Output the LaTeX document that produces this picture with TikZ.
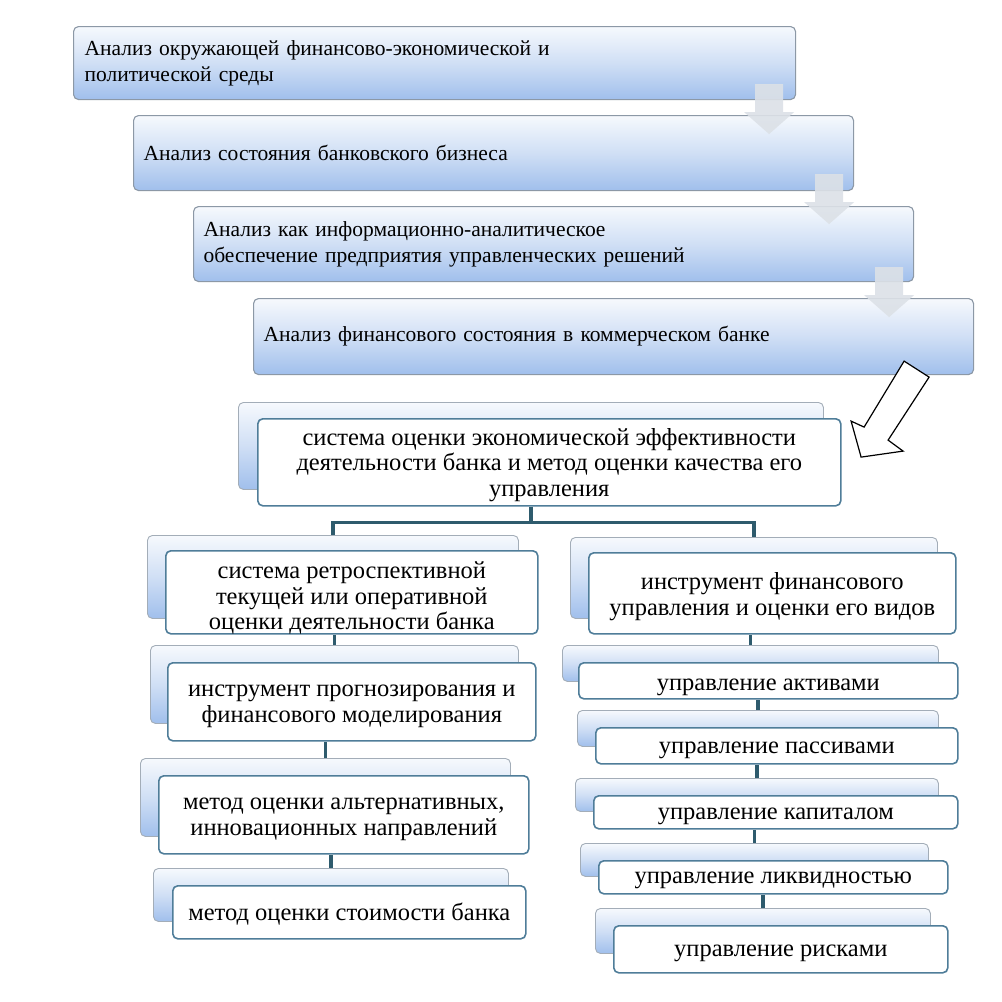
\documentclass[tikz,border=0pt]{standalone}
\usepackage{fontspec}
\setmainfont{Liberation Serif}
\newfontfamily\serifL{Liberation Serif}
\usetikzlibrary{calc}
\definecolor{gtop}{HTML}{F6F9FD}
\definecolor{gmid}{HTML}{D0DFF5}
\definecolor{gbot}{HTML}{A0BFEC}
\definecolor{gborder}{HTML}{8C98A6}
\definecolor{fborder}{HTML}{4F7D99}
\definecolor{conn}{HTML}{2E5B6D}
\definecolor{garrowc}{HTML}{DCE1E7}
\tikzset{
  topbox/.style={draw=gborder, line width=1.1pt, rounded corners=5pt, top color=gtop, bottom color=gbot, middle color=gmid, anchor=north west, inner xsep=10pt, inner ysep=2pt, align=left, font=\serifL\fontsize{21.5}{26}\selectfont},
  shadowbox/.style={draw=gborder!80, line width=0.9pt, rounded corners=5pt, top color=gtop, bottom color=gbot, middle color=gmid, anchor=north west, inner sep=0pt},
  frontbox/.style={draw=fborder, line width=1.6pt, rounded corners=5pt, fill=white, anchor=north west, inner sep=0pt},
  ftext/.style={font=\serifL\fontsize{24.5}{25.5}\selectfont, align=center, inner sep=0pt, yshift=-4.5pt},
  link/.style={draw=conn, line width=3.5pt},
  garrow/.style={fill=garrowc, opacity=0.9},
  bigarrow/.style={draw=black, line width=1.2pt, fill=white, line join=miter}
}
\begin{document}
\begin{tikzpicture}[x=1pt, y=-1pt]
\useasboundingbox[fill=white] (0,0) rectangle (1002,1002);

% top cascade
\node[topbox, minimum width=722pt, minimum height=73pt, text width=700pt] (b1) at (73,26)
  {Анализ окружающей финансово-экономической и\\политической среды};
\node[topbox, minimum width=720pt, minimum height=75pt, text width=700pt] (b2) at (133,115)
  {Анализ состояния банковского бизнеса};
\node[topbox, minimum width=720pt, minimum height=75pt, text width=700pt] (b3) at (193,206)
  {Анализ как информационно-аналитическое\\обеспечение предприятия управленческих решений};
\node[topbox, minimum width=720pt, minimum height=76pt, text width=700pt] (b4) at (253,298)
  {Анализ финансового состояния в коммерческом банке};

\newcommand{\grayarr}[1]{\fill[garrow] ($#1+(-14,0)$) -- ++(0,28) -- ++(-11,0) -- ++(25,22) -- ++(25,-22) -- ++(-11,0) -- ++(0,-28) -- cycle;}
\grayarr{(b1.south east)+(-27,-16)}
\grayarr{(b2.south east)+(-25,-17)}
\grayarr{(b3.south east)+(-25,-15)}

% big hollow arrow
\draw[bigarrow] ($(b4.south east)+(-70,-14)$) -- ++(25,16) -- ++(-41,63) -- ++(15,11) -- ++(-42,6) -- ++(-10,-36) -- ++(13,6) -- cycle;

% lower hierarchy: shadow boxes
\node[shadowbox, minimum width=585pt, minimum height=87pt] (s0) at (238,402) {};
\node[shadowbox, minimum width=371pt, minimum height=83pt] (sL1) at (147,535) {};
\node[shadowbox, minimum width=368pt, minimum height=78pt] (sL2) at (150,645) {};
\node[shadowbox, minimum width=370pt, minimum height=78pt] (sL3) at (140,758) {};
\node[shadowbox, minimum width=355pt, minimum height=53pt] (sL4) at (153,868) {};
\node[shadowbox, minimum width=367pt, minimum height=81pt] (sR1) at (570,537) {};
\node[shadowbox, minimum width=376pt, minimum height=36pt] (sR2) at (562,645) {};
\node[shadowbox, minimum width=361pt, minimum height=36pt] (sR3) at (577,710) {};
\node[shadowbox, minimum width=363pt, minimum height=33pt] (sR4) at (575,778) {};
\node[shadowbox, minimum width=348pt, minimum height=33pt] (sR5) at (580,843) {};
\node[shadowbox, minimum width=335pt, minimum height=45pt] (sR6) at (595,908) {};

% front boxes (text placed as centred labels)
\node[frontbox, minimum width=583pt, minimum height=87pt,
  label={[ftext, yshift=2pt, name=t0]center:{система оценки экономической эффективности\\деятельности банка и метод оценки качества его\\управления}}] (n0) at (257,418) {};
\node[frontbox, minimum width=372pt, minimum height=83pt,
  label={[ftext, yshift=-1.5pt, name=tL1]center:{система ретроспективной\\текущей или оперативной\\оценки деятельности банка}}] (nL1) at (165,550) {};
\node[frontbox, minimum width=368pt, minimum height=78pt,
  label={[ftext, name=tL2]center:{инструмент прогнозирования и\\финансового моделирования}}] (nL2) at (167,662) {};
\node[frontbox, minimum width=370pt, minimum height=78pt,
  label={[ftext, name=tL3]center:{метод оценки альтернативных,\\инновационных направлений}}] (nL3) at (158,775) {};
\node[frontbox, minimum width=353pt, minimum height=53pt,
  label={[ftext, yshift=2.5pt, name=tL4]center:{метод оценки стоимости банка}}] (nL4) at (172,885) {};
\node[frontbox, minimum width=367pt, minimum height=81pt,
  label={[ftext, yshift=1pt, name=tR1]center:{инструмент финансового\\управления и оценки его видов}}] (nR1) at (588,552) {};
\node[frontbox, minimum width=379pt, minimum height=36pt,
  label={[ftext, yshift=-2.5pt, name=tR2]center:{управление активами}}] (nR2) at (578,662) {};
\node[frontbox, minimum width=362pt, minimum height=36pt,
  label={[ftext, name=tR3]center:{управление пассивами}}] (nR3) at (595,727) {};
\node[frontbox, minimum width=364pt, minimum height=33pt,
  label={[ftext, name=tR4]center:{управление капиталом}}] (nR4) at (593,795) {};
\node[frontbox, minimum width=349pt, minimum height=33pt,
  label={[ftext, yshift=1.5pt, name=tR5]center:{управление ликвидностью}}] (nR5) at (598,860) {};
\node[frontbox, minimum width=334pt, minimum height=47pt,
  label={[ftext, name=tR6]center:{управление рисками}}] (nR6) at (613,925) {};

% connectors
\coordinate (fork) at ($(n0.south -| s0.north)+(0,16)$);
\draw[link] (n0.south -| s0.north) -- (fork);
\draw[link] (fork) -| (sL1.north);
\draw[link] (fork) -| (sR1.north);
\draw[link] (sL2.north) -- (sL2.north |- nL1.south);
\draw[link] (sL3.north) -- (sL3.north |- nL2.south);
\draw[link] (sL4.north) -- (sL4.north |- nL3.south);
\draw[link] (sR2.north) -- (sR2.north |- nR1.south);
\draw[link] (sR3.north) -- (sR3.north |- nR2.south);
\draw[link] (sR4.north) -- (sR4.north |- nR3.south);
\draw[link] (sR5.north) -- (sR5.north |- nR4.south);
\draw[link] (sR6.north) -- (sR6.north |- nR5.south);
\end{tikzpicture}
\end{document}
